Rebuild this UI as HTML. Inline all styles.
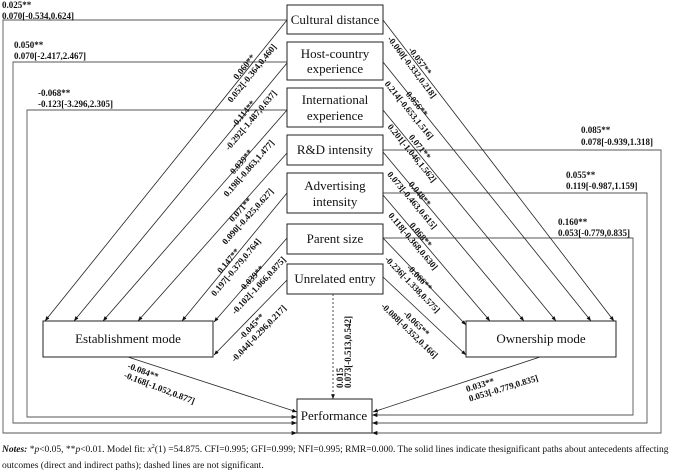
<!DOCTYPE html>
<html><head><meta charset="utf-8"><style>
html,body{margin:0;padding:0;background:#fff;}
svg{display:block;}
.b{font-family:"Liberation Serif",serif;font-size:13px;fill:#111;}
.l{font-family:"Liberation Serif",serif;font-size:9px;font-weight:bold;fill:#111;}
.n{font-family:"Liberation Serif",serif;font-size:9.5px;fill:#111;}
</style></head><body>
<svg width="685" height="472" viewBox="0 0 685 472" xmlns="http://www.w3.org/2000/svg">
<defs><marker id="a" viewBox="0 0 10 10" refX="10" refY="5" markerWidth="6" markerHeight="6" orient="auto"><path d="M0,1 L10,5 L0,9 z" fill="#111"/></marker></defs>
<g fill="none" stroke="#555" stroke-width="0.9">
<polyline points="287,20 3,20 3,433 297,433" marker-end="url(#a)"/>
<polyline points="287,62 13,62 13,423 297,423" marker-end="url(#a)"/>
<polyline points="287,110 27,110 27,417 297,417" marker-end="url(#a)"/>
<polyline points="383,150 661,150 661,433 372,433" marker-end="url(#a)"/>
<polyline points="383,193 647,193 647,423 372,423" marker-end="url(#a)"/>
<polyline points="383,238 633,238 633,415 372,415" marker-end="url(#a)"/>
</g>
<g fill="none" stroke="#222" stroke-width="0.8">
<line x1="287" y1="20" x2="45" y2="321" marker-end="url(#a)"/>
<line x1="287" y1="63" x2="74" y2="321" marker-end="url(#a)"/>
<line x1="287" y1="110" x2="103" y2="321" marker-end="url(#a)"/>
<line x1="287" y1="153" x2="138" y2="321" marker-end="url(#a)"/>
<line x1="287" y1="193" x2="182" y2="321" marker-end="url(#a)"/>
<line x1="287" y1="238" x2="214" y2="322" marker-end="url(#a)"/>
<line x1="287" y1="280" x2="214" y2="355" marker-end="url(#a)"/>
<line x1="383" y1="20" x2="614" y2="321" marker-end="url(#a)"/>
<line x1="383" y1="62" x2="591" y2="321" marker-end="url(#a)"/>
<line x1="383" y1="110" x2="556" y2="321" marker-end="url(#a)"/>
<line x1="383" y1="152" x2="524" y2="321" marker-end="url(#a)"/>
<line x1="383" y1="195" x2="490" y2="321" marker-end="url(#a)"/>
<line x1="383" y1="238" x2="466" y2="325" marker-end="url(#a)"/>
<line x1="383" y1="277" x2="466" y2="355" marker-end="url(#a)"/>
<line x1="128" y1="357" x2="297" y2="412" marker-end="url(#a)"/>
<line x1="540" y1="357" x2="373" y2="412" marker-end="url(#a)"/>
<line x1="333" y1="294" x2="333" y2="399" stroke-dasharray="2,2" marker-end="url(#a)"/>
</g>
<g fill="#fff" stroke="#222" stroke-width="1">
<rect x="287" y="5" width="96" height="29"/>
<rect x="287" y="42" width="96" height="38"/>
<rect x="287" y="88" width="96" height="39"/>
<rect x="287" y="135" width="96" height="30"/>
<rect x="287" y="173" width="96" height="40"/>
<rect x="287" y="224" width="96" height="30"/>
<rect x="287" y="264" width="96" height="30"/>
<rect x="43" y="321" width="170" height="36"/>
<rect x="466" y="321" width="150" height="36"/>
<rect x="297" y="399" width="75" height="34"/>
</g>
<g class="b" text-anchor="middle">
<text x="335" y="24">Cultural distance</text>
<text x="335" y="58">Host-country</text>
<text x="335" y="73">experience</text>
<text x="335" y="104">International</text>
<text x="335" y="120">experience</text>
<text x="335" y="154">R&amp;D intensity</text>
<text x="335" y="190">Advertising</text>
<text x="335" y="206">intensity</text>
<text x="335" y="243">Parent size</text>
<text x="335" y="283">Unrelated entry</text>
<text x="128" y="343">Establishment mode</text>
<text x="541" y="343">Ownership mode</text>
<text x="334" y="420">Performance</text>
</g>
<g class="l">
<text x="2" y="8">0.025**</text><text x="2" y="19">0.070[-0.534,0.624]</text>
<text x="14" y="48">0.050**</text><text x="14" y="59">0.070[-2.417,2.467]</text>
<text x="38" y="96">-0.068**</text><text x="38" y="107">-0.123[-3.296,2.305]</text>
<text x="581" y="133">0.085**</text><text x="581" y="145">0.078[-0.939,1.318]</text>
<text x="566" y="178">0.055**</text><text x="566" y="189">0.119[-0.987,1.159]</text>
<text x="558" y="225">0.160**</text><text x="558" y="236">0.053[-0.779,0.835]</text>
</g>
<g class="l" text-anchor="middle">
<g transform="translate(248,70) rotate(-51)"><text y="-2">0.060**</text><text y="8">0.052[-0.364,0.460]</text></g>
<g transform="translate(247,117) rotate(-50)"><text y="-2">-0.114**</text><text y="8">-0.292[-1.487,0.637]</text></g>
<g transform="translate(245,165) rotate(-49)"><text y="-2">0.039**</text><text y="8">0.198[-0.863,1.477]</text></g>
<g transform="translate(244,213) rotate(-48)"><text y="-2">0.071**</text><text y="8">0.090[-0.425,0.627]</text></g>
<g transform="translate(232,264) rotate(-50)"><text y="-2">0.147**</text><text y="8">0.197[-0.379,0.764]</text></g>
<g transform="translate(255,282) rotate(-47)"><text y="-2">-0.039**</text><text y="8">-0.102[-1.066,0.875]</text></g>
<g transform="translate(255,330) rotate(-46)"><text y="-2">-0.045**</text><text y="8">-0.044[-0.296,0.217]</text></g>
<g transform="translate(416,64) rotate(53)"><text y="-2">-0.057**</text><text y="8">-0.060[-0.332,0.218]</text></g>
<g transform="translate(413,107) rotate(51)"><text y="-2">0.056**</text><text y="8">0.214[-0.653,1.516]</text></g>
<g transform="translate(416,150) rotate(51)"><text y="-2">0.071**</text><text y="8">0.201[-1.046,1.562]</text></g>
<g transform="translate(416,197) rotate(50)"><text y="-2">0.048**</text><text y="8">0.073[-0.463,0.615]</text></g>
<g transform="translate(417,238) rotate(50)"><text y="-2">0.068**</text><text y="8">0.118[-0.368,0.630]</text></g>
<g transform="translate(416,281) rotate(46)"><text y="-2">-0.066**</text><text y="8">-0.236[-1.338,0.575]</text></g>
<g transform="translate(413,327) rotate(44)"><text y="-2">-0.065**</text><text y="8">-0.088[-0.352,0.166]</text></g>
</g>
<g class="l">
<g transform="translate(127,368) rotate(21)"><text>-0.084**</text><text y="10">-0.168[-1.052,0.877]</text></g>
<g transform="translate(467,392) rotate(-17)"><text>0.033**</text><text y="10">0.053[-0.779,0.835]</text></g>
<g transform="translate(343,388) rotate(-90)"><text>0.015</text><text y="8">0.073[-0.513,0.542]</text></g>
</g>
<text class="n" x="2" y="452"><tspan font-weight="bold" font-style="italic">Notes:</tspan> *<tspan font-style="italic">p</tspan>&lt;0.05, **<tspan font-style="italic">p</tspan>&lt;0.01. Model fit: <tspan font-style="italic">x</tspan><tspan font-size="6" dy="-4">2</tspan><tspan dy="4">(1) =54.875. CFI=0.995; GFI=0.999; NFI=0.995; RMR=0.000. The solid lines indicate thesignificant paths about antecedents affecting</tspan></text>
<text class="n" x="2" y="468">outcomes (direct and indirect paths); dashed lines are not significant.</text>
</svg>
</body></html>
